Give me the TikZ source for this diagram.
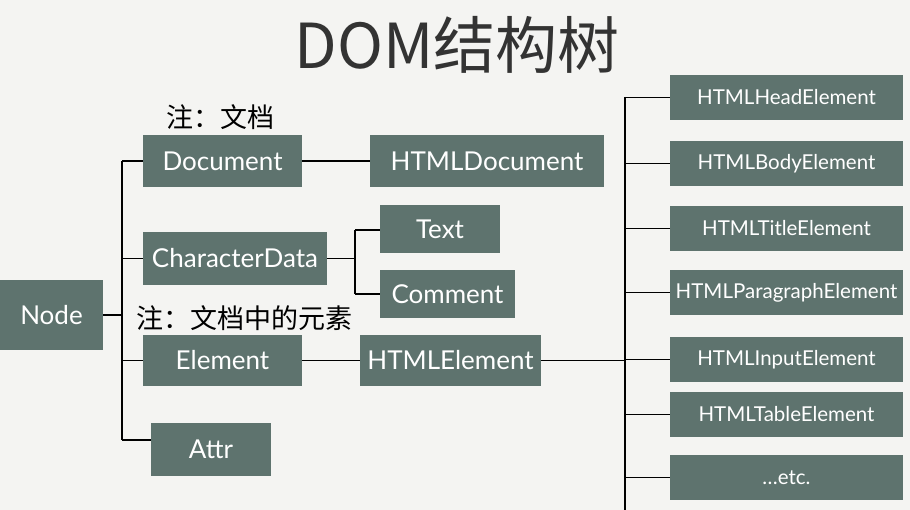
\documentclass[tikz,border=0pt]{standalone}
\usepackage{fontspec}
\setmainfont{Lato}
\newfontfamily\cjk{Noto Sans CJK SC}
\definecolor{boxc}{HTML}{5E736E}
\definecolor{bgc}{HTML}{F4F4F2}
\begin{document}
\begin{tikzpicture}[x=1pt,y=-1pt,
  bx/.style={fill=boxc,text=white,inner sep=0pt,font=\fontsize{26}{28}\selectfont},
  rb/.style={bx,minimum width=233pt,minimum height=45pt,font=\fontsize{20.5}{22}\selectfont},
  ln/.style={line width=1.6pt,black}]
\fill[bgc] (0,0) rectangle (910,510);
\useasboundingbox (0,0) rectangle (910,510);
\node[font=\fontsize{62}{66}\selectfont\cjk,text=black!80] (title) at (457,45) {DOM结构树};
\node[bx,minimum width=103pt,minimum height=70pt] (node) at (51.5,315) {Node};
\node[bx,minimum width=159pt,minimum height=52pt] (doc) at (222.5,161) {Document};
\node[bx,minimum width=184pt,minimum height=53pt] (cd) at (235,258.5) {CharacterData};
\node[bx,minimum width=159pt,minimum height=51pt] (el) at (222.5,360.5) {Element};
\node[bx,minimum width=120pt,minimum height=53pt] (attr) at (211,449.5) {Attr};
\node[bx,minimum width=234pt,minimum height=52pt] (hd) at (487,161) {HTMLDocument};
\node[bx,minimum width=120pt,minimum height=48pt] (text) at (440,229) {Text};
\node[bx,minimum width=135pt,minimum height=48pt] (com) at (447.5,294) {Comment};
\node[bx,minimum width=181pt,minimum height=51pt] (he) at (450.5,360.5) {HTMLElement};
\node[rb] (r1) at (786.5,97.5) {HTMLHeadElement};
\node[rb] (r2) at (786.5,163.5) {HTMLBodyElement};
\node[rb] (r3) at (786.5,228.5) {HTMLTitleElement};
\node[rb] (r4) at (786.5,292.5) {HTMLParagraphElement};
\node[rb] (r5) at (786.5,359.5) {HTMLInputElement};
\node[rb] (r6) at (786.5,414.5) {HTMLTableElement};
\node[rb] (r7) at (786.5,477.5) {\dots etc.};
\node[font=\fontsize{27}{29}\selectfont\cjk,anchor=west] (n1) at (163,117) {注：文档};
\node[font=\fontsize{27}{29}\selectfont\cjk,anchor=west] (n2) at (133,318) {注：文档中的元素};
\coordinate (a1) at (122,161);
\coordinate (a2) at (122,440);
\coordinate (b1) at (355,230);
\coordinate (b2) at (355,294);
\coordinate (c1) at (625,97);
\coordinate (c2) at (625,510);
\draw[ln] (node.east) -- (122,315);
\draw[ln] (a1) -- (a2);
\draw[ln] (a1) -- (doc.west);
\draw[ln] (122,258.5) -- (cd.west);
\draw[ln] (122,360.5) -- (el.west);
\draw[ln] (a2) -- (attr.west |- a2);
\draw[ln] (doc.east) -- (hd.west);
\draw[ln] (el.east) -- (he.west);
\draw[ln] (cd.east) -- (355,258.5);
\draw[ln] (b1) -- (b2);
\draw[ln] (b1) -- (text.west |- b1);
\draw[ln] (b2) -- (com.west);
\draw[ln] (he.east) -- (625,360.5);
\draw[ln] (c1) -- (c2);
\foreach \r in {r1,r2,r3,r4,r5,r6,r7} \draw[ln] (\r.west -| c1) -- (\r.west);
\end{tikzpicture}
\end{document}
